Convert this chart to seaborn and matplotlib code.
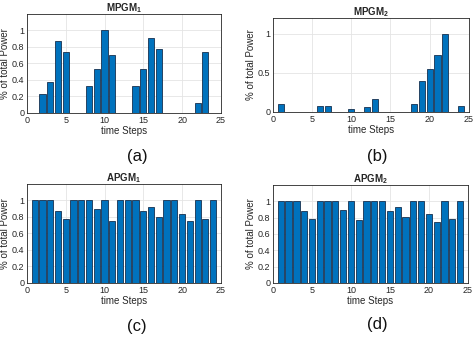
import matplotlib
matplotlib.use("Agg")
import matplotlib.pyplot as plt
import seaborn as sns
import pandas as pd

time_steps = list(range(1, 25))
mpgm1 = [0, 0.23, 0.38, 0.87, 0.74, 0, 0, 0.32, 0.53, 1.0, 0.70, 0, 0, 0.32, 0.53, 0.91, 0.78, 0, 0, 0, 0, 0.12, 0.74, 0]
mpgm2 = [0.10, 0, 0, 0, 0, 0.08, 0.08, 0, 0, 0.04, 0, 0.06, 0.17, 0, 0, 0, 0, 0.10, 0.39, 0.55, 0.72, 1.0, 0, 0.08]
apgm1 = [1, 1, 1, 0.87, 0.77, 1, 1, 1, 0.89, 1, 0.75, 1, 1, 1, 0.87, 0.92, 0.80, 1, 1, 0.84, 0.75, 1, 0.77, 1]
apgm2 = [1, 1, 1, 0.88, 0.78, 1, 1, 1, 0.89, 1, 0.77, 1, 1, 1, 0.88, 0.93, 0.81, 1, 1, 0.84, 0.75, 1, 0.78, 1]

titles = [r"$\mathbf{MPGM_1}$", r"$\mathbf{MPGM_2}$", r"$\mathbf{APGM_1}$", r"$\mathbf{APGM_2}$"]
panel_labels = ["(a)", "(b)", "(c)", "(d)"]
xticks = [0, 5, 10, 15, 20, 25]
yticks_fine = [0, 0.2, 0.4, 0.6, 0.8, 1]
yticks_coarse = [0, 0.5, 1]

sns.set_theme(style="white")
plt.rcParams['font.family'] = ['Liberation Sans', 'DejaVu Sans']
plt.rcParams['mathtext.fontset'] = 'custom'
plt.rcParams['mathtext.rm'] = 'Liberation Sans'
plt.rcParams['mathtext.bf'] = 'Liberation Sans:bold'

fig = plt.figure(figsize=(4.74, 3.38), dpi=100)
positions = [
    [0.057, 0.666, 0.409, 0.293],
    [0.576, 0.669, 0.413, 0.278],
    [0.057, 0.163, 0.409, 0.293],
    [0.576, 0.163, 0.411, 0.290],
]
series = [mpgm1, mpgm2, apgm1, apgm2]
label_pos = [(137, 157), (377, 157), (137, 327), (377, 325)]

for i, (pos, vals) in enumerate(zip(positions, series)):
    ax = fig.add_axes(pos)
    df = pd.DataFrame({"t": time_steps, "v": vals})
    sns.barplot(data=df, x="t", y="v", native_scale=True, color="#0072BD",
                saturation=1, width=0.8, edgecolor="#16304f", linewidth=0.6, ax=ax, zorder=3)
    ax.set_xlim(0, 25)
    ax.set_ylim(0, 1.2)
    ax.set_xticks(xticks)
    ax.set_yticks(yticks_coarse if i == 1 else yticks_fine)
    ax.set_yticklabels(["0", "0.5", "1"] if i == 1 else ["0", "0.2", "0.4", "0.6", "0.8", "1"])
    ax.grid(True, color="#e4e4e4", linewidth=0.6, zorder=0)
    ax.set_axisbelow(True)
    for s in ax.spines.values():
        s.set_color("#262626")
        s.set_linewidth(0.6)
        s.set_visible(True)
    ax.tick_params(axis="both", labelsize=6.5, colors="#262626", direction="in", length=2, pad=2)
    ax.set_xlabel("time Steps", fontsize=7, color="#262626", labelpad=1)
    ax.set_ylabel("% of total Power", fontsize=7, color="#262626", labelpad=1)
    ax.set_title(titles[i], fontsize=7, pad=2)
    lx, ly = label_pos[i]
    fig.text(lx / 474, 1 - ly / 338, panel_labels[i], fontsize=12, ha="center", va="center", color="#111111")

fig.savefig("out.png", dpi=100)
